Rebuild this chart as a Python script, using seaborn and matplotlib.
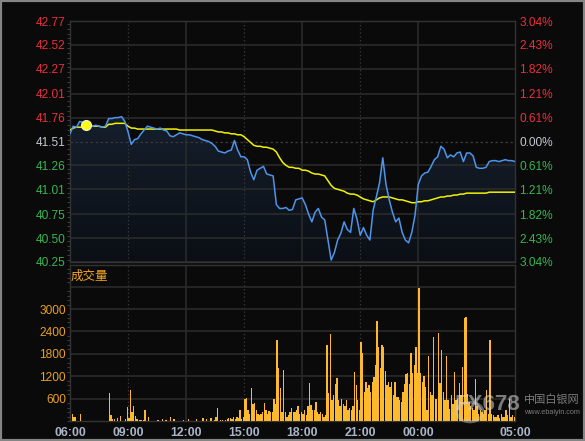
import numpy as np
import matplotlib
matplotlib.use('Agg')
import matplotlib.pyplot as plt
from matplotlib.colors import LinearSegmentedColormap
from matplotlib.patches import Rectangle, Circle
from matplotlib.ticker import MultipleLocator
import seaborn as sns

# ---------------- data ----------------
# price sampled every 10 minutes from 06:00 to 05:00 (next day)
price = [
    41.59, 41.67, 41.66, 41.72, 41.71, 41.68, 41.67, 41.67, 41.68, 41.67,
    41.66, 41.67, 41.75, 41.75, 41.76, 41.76, 41.77, 41.72, 41.61, 41.48,
    41.53, 41.54, 41.59, 41.63, 41.67, 41.66, 41.65, 41.64, 41.65, 41.63,
    41.62, 41.57, 41.56, 41.58, 41.60, 41.59, 41.58, 41.58, 41.57, 41.56,
    41.55, 41.53, 41.52, 41.51, 41.49, 41.46, 41.41, 41.40, 41.39, 41.41,
    41.42, 41.52, 41.42, 41.35, 41.35, 41.32, 41.19, 41.11, 41.21, 41.23,
    41.25, 41.17, 41.16, 41.15, 40.85, 40.81, 40.81, 40.82, 40.79, 40.80,
    40.90, 40.91, 40.92, 40.85, 40.75, 40.67, 40.77, 40.81, 40.72, 40.69,
    40.48, 40.27, 40.35, 40.48, 40.55, 40.67, 40.59, 40.56, 40.81, 40.70,
    40.53, 40.61, 40.53, 40.48, 40.79, 40.93, 41.08, 41.34, 41.06, 40.90,
    40.77, 40.67, 40.71, 40.56, 40.48, 40.45, 40.56, 40.74, 41.06, 41.15,
    41.18, 41.19, 41.25, 41.32, 41.35, 41.46, 41.43, 41.34, 41.37, 41.35,
    41.39, 41.40, 41.30, 41.39, 41.39, 41.36, 41.24, 41.23, 41.23, 41.24,
    41.30, 41.31, 41.31, 41.30, 41.31, 41.32, 41.31, 41.31, 41.30,
]
avg_price = [
    41.63, 41.65, 41.66, 41.66, 41.66, 41.66, 41.67, 41.67, 41.67, 41.67,
    41.66, 41.66, 41.69, 41.69, 41.70, 41.70, 41.70, 41.70, 41.67, 41.65,
    41.65, 41.64, 41.64, 41.64, 41.64, 41.64, 41.64, 41.64, 41.64, 41.64,
    41.64, 41.64, 41.64, 41.64, 41.63, 41.63, 41.63, 41.63, 41.63, 41.63,
    41.63, 41.63, 41.63, 41.63, 41.63, 41.62, 41.61, 41.61, 41.60, 41.60,
    41.59, 41.59, 41.58, 41.58, 41.56, 41.53, 41.50, 41.47, 41.46, 41.46,
    41.45, 41.45, 41.44, 41.43, 41.40, 41.34, 41.29, 41.26, 41.24, 41.24,
    41.23, 41.23, 41.21, 41.21, 41.20, 41.18, 41.17, 41.17, 41.16, 41.15,
    41.10, 41.05, 41.02, 41.01, 41.00, 40.99, 40.97, 40.96, 40.96, 40.95,
    40.93, 40.91, 40.90, 40.89, 40.88, 40.90, 40.92, 40.93, 40.93, 40.93,
    40.92, 40.91, 40.90, 40.90, 40.89, 40.88, 40.87, 40.87, 40.88, 40.88,
    40.89, 40.89, 40.90, 40.91, 40.92, 40.93, 40.93, 40.94, 40.94, 40.95,
    40.95, 40.96, 40.96, 40.97, 40.97, 40.97, 40.97, 40.97, 40.97, 40.97,
    40.98, 40.98, 40.98, 40.98, 40.98, 40.98, 40.98, 40.98, 40.98,
]
# volume in 5-minute bars, one row per hour (06:00 ... 04:00)
vol_06 = [0, 200, 110, 100, 0, 0, 200, 0, 0, 0, 0, 0]
vol_07 = [0, 0, 0, 0, 0, 0, 0, 0, 0, 0, 0, 0]
vol_08 = [760, 160, 60, 50, 0, 70, 0, 130, 0, 0, 45, 380]
vol_09 = [70, 830, 250, 400, 130, 60, 0, 30, 30, 30, 300, 0]
vol_10 = [100, 0, 0, 0, 0, 0, 30, 0, 0, 60, 0, 30]
vol_11 = [0, 0, 110, 0, 60, 0, 0, 0, 0, 0, 30, 0]
vol_12 = [0, 60, 0, 0, 0, 0, 60, 0, 0, 0, 70, 0]
vol_13 = [60, 0, 0, 70, 0, 40, 120, 340, 0, 30, 30, 0]
vol_14 = [40, 60, 70, 90, 60, 110, 60, 110, 90, 300, 60, 100]
vol_15 = [600, 610, 300, 200, 880, 450, 490, 300, 200, 150, 200, 250]
vol_16 = [490, 300, 200, 280, 250, 250, 590, 450, 2170, 1410, 880, 250]
vol_17 = [1370, 250, 100, 150, 250, 350, 250, 250, 300, 400, 200, 250]
vol_18 = [200, 300, 150, 400, 1010, 430, 300, 300, 500, 250, 200, 250]
vol_19 = [200, 100, 150, 2040, 740, 2320, 560, 700, 1000, 1140, 560, 400]
vol_20 = [600, 450, 400, 560, 300, 350, 300, 400, 1320, 970, 560, 300]
vol_21 = [2125, 1810, 780, 1050, 880, 970, 780, 1050, 1190, 1500, 2690, 1990]
vol_22 = [1430, 2040, 1990, 1340, 970, 1050, 920, 1050, 700, 1050, 650, 650]
vol_23 = [560, 500, 780, 1000, 1260, 1280, 1000, 1810, 1280, 1500, 1990, 1280]
vol_00 = [3560, 1280, 1050, 1200, 900, 300, 1730, 780, 700, 2260, 600, 600]
vol_01 = [2350, 1010, 1900, 780, 560, 1730, 560, 330, 700, 450, 1300, 560]
vol_02 = [600, 1010, 700, 1460, 2770, 2795, 720, 500, 400, 350, 300, 1120]
vol_03 = [400, 200, 300, 250, 200, 300, 830, 200, 2170, 200, 150, 100]
vol_04 = [100, 150, 80, 200, 120, 100, 300, 150, 600, 100, 150, 100]

price_ticks = [42.77, 42.52, 42.27, 42.01, 41.76, 41.51, 41.26, 41.01, 40.75, 40.50, 40.25]
pct_labels = ['3.04%', '2.43%', '1.82%', '1.21%', '0.61%', '0.00%',
              '0.61%', '1.21%', '1.82%', '2.43%', '3.04%']
base_price = 41.51
vol_ticks = [600, 1200, 1800, 2400, 3000, 3600]
vol_labels = ['600', '1200', '1800', '2400', '3000', '']
hour_ticks = [0, 3, 6, 9, 12, 15, 18, 23]
hour_labels = ['06:00', '09:00', '12:00', '15:00', '18:00', '21:00', '00:00', '05:00']
dot_index = 5

# ---------------- style ----------------
BG = '#0a0a0a'
GRID = '#2a2a2a'
FRAME = '#333333'
BLUE = '#4d94ea'
YELLOW = '#f2f200'
ORANGE = '#fcb92c'
RED = '#e8303c'
GREEN = '#37b552'
NEUTRAL = '#c4c8d0'
XLAB = '#aab6c8'

sns.set_style('dark', {'axes.facecolor': BG, 'figure.facecolor': BG})
plt.rcParams['font.family'] = ['Liberation Sans', 'Noto Sans CJK SC', 'DejaVu Sans']

t_price = np.arange(len(price)) * 10 / 60
vol_rows = [vol_06, vol_07, vol_08, vol_09, vol_10, vol_11, vol_12, vol_13, vol_14, vol_15,
            vol_16, vol_17, vol_18, vol_19, vol_20, vol_21, vol_22, vol_23, vol_00, vol_01,
            vol_02, vol_03, vol_04]
volume = np.concatenate(vol_rows)
t_vol = np.arange(len(volume)) * 5 / 60 + 2.5 / 60

W, H = 585, 441
fig = plt.figure(figsize=(W / 100, H / 100), dpi=100, facecolor=BG)


def frame(x0, y0, x1, y1):
    return [x0 / W, 1 - y1 / H, (x1 - x0) / W, (y1 - y0) / H]


ax = fig.add_axes(frame(70, 21, 515, 262))
axv = fig.add_axes(frame(70, 265, 515, 421))
ymin, ymax = 40.25, 42.77

for a in (ax, axv):
    a.set_facecolor(BG)
    for s in a.spines.values():
        s.set_color(FRAME)
        s.set_linewidth(1)
    a.grid(False)
    for h in (3, 9, 15):
        a.axvline(h, color='#3a3a3a', lw=0.9, ls=(0, (1, 2)), zorder=1.5)
    for h in (6, 12, 18):
        a.axvline(h, color=GRID, lw=1.2, zorder=1.5)

# price panel grid
for v in price_ticks:
    if abs(v - base_price) < 1e-6:
        ax.axhline(v, color='#3a3a3a', lw=0.9, ls=(0, (2, 2)), zorder=1.5)
    else:
        ax.axhline(v, color=GRID, lw=1.2, zorder=1.5)

# gradient fill under the price line
poly = ax.fill_between(t_price, price, ymin, facecolor='none', edgecolor='none')
cmap = LinearSegmentedColormap.from_list('fillgrad', ['#0b0f15', '#131c28', '#1e2c40'])
grad = np.linspace(0, 1, 256).reshape(-1, 1)
im = ax.imshow(grad, extent=[0, 23, ymin, ymax], origin='lower', aspect='auto',
               cmap=cmap, zorder=1)
im.set_clip_path(poly.get_paths()[0], transform=ax.transData)

sns.lineplot(x=t_price, y=avg_price, ax=ax, color=YELLOW, linewidth=1.1, zorder=3)
sns.lineplot(x=t_price, y=price, ax=ax, color=BLUE, linewidth=1.1, zorder=4)
ax.plot([t_price[dot_index]], [price[dot_index]], 'o', ms=7, mfc='#ffff00',
        mec='#f0f0c0', mew=1, zorder=5)

ax.set_xlim(0, 23)
ax.set_ylim(ymin, ymax)
ax.set_xticks([])
ax.set_xlabel('')
ax.set_ylabel('')
ax.set_yticks(price_ticks)
ax.set_yticklabels([f'{v:.2f}' for v in price_ticks])
ax.tick_params(axis='y', which='major', length=0, pad=3, labelsize=8.6)
ax.yaxis.set_minor_locator(MultipleLocator(0.0504))
ax.tick_params(axis='y', which='minor', length=2, width=0.6, color='#4a4a4a', left=True)


def colour_for(v):
    if v > base_price + 1e-6:
        return RED
    if v < base_price - 1e-6:
        return GREEN
    return NEUTRAL


for lab, v in zip(ax.get_yticklabels(), price_ticks):
    lab.set_color(colour_for(v))

axr = ax.twinx()
axr.set_ylim(ymin, ymax)
axr.set_yticks(price_ticks)
axr.set_yticklabels(pct_labels)
axr.tick_params(axis='y', length=0, pad=3, labelsize=8.6)
for s in axr.spines.values():
    s.set_visible(False)
for lab, v in zip(axr.get_yticklabels(), price_ticks):
    lab.set_color(colour_for(v))
axr.grid(False)

# volume panel
for v in vol_ticks:
    axv.axhline(v, color=GRID, lw=1.2, zorder=1.5)
sns.barplot(x=t_vol, y=volume, native_scale=True, ax=axv, color=ORANGE,
            saturation=1, width=0.85, linewidth=0, errorbar=None, zorder=3)
axv.set_xlim(0, 23)
axv.set_ylim(0, 4180)
axv.set_yticks(vol_ticks)
axv.set_yticklabels(vol_labels)
axv.set_xlabel('')
axv.set_ylabel('')
axv.tick_params(axis='y', which='major', length=0, pad=3, labelsize=8.6, labelcolor='#eaa020')
axv.yaxis.set_minor_locator(MultipleLocator(120))
axv.tick_params(axis='y', which='minor', length=2, width=0.6, color='#4a4a4a', left=True)
axv.set_xticks(hour_ticks)
axv.set_xticklabels(hour_labels)
axv.tick_params(axis='x', length=0, pad=4, labelsize=8.8, labelcolor=XLAB)
for lab in axv.get_xticklabels():
    lab.set_fontweight('bold')

fig.text(71 / W, 1 - 276 / H, '成交量', color='#f5a623', fontsize=9,
         family=['Noto Sans CJK SC', 'DejaVu Sans'], va='center', ha='left')

# watermark (kept clear of the other texts)
wm = dict(color='#d8d8d8', alpha=0.55)
fig.text(454 / W, 1 - 405 / H, 'FX678', fontsize=16, fontweight='bold',
         va='center', ha='left', **wm)
fig.text(524 / W, 1 - 400 / H, '中国白银网', fontsize=8,
         family=['Noto Sans CJK SC', 'DejaVu Sans'], va='center', ha='left', **wm)
fig.text(524 / W, 1 - 413 / H, 'www.ebaiyin.com', fontsize=5.2, va='center', ha='left', **wm)
fig.patches.append(Circle((470 / W, 1 - 412 / H), 13 / W, transform=fig.transFigure,
                          fill=False, edgecolor='#c8c8c8', lw=2.2, alpha=0.45))

fig.patches.append(Rectangle((0, 0), 1, 1, transform=fig.transFigure, fill=False,
                             edgecolor='#858585', lw=3))

fig.savefig('out.png', dpi=100, facecolor=BG)
